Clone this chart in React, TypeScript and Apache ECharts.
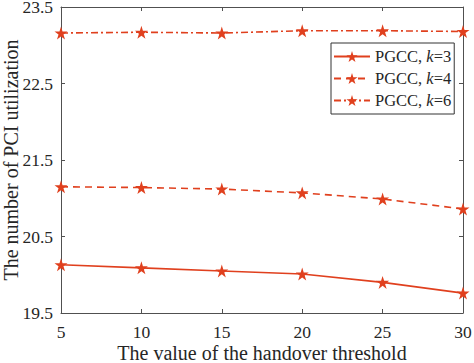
import React, { useEffect, useRef } from "react";
import * as echarts from "echarts";

const thresholds = [5, 10, 15, 20, 25, 30];
const k3Values = [20.13, 20.09, 20.05, 20.01, 19.9, 19.76];
const k4Values = [21.15, 21.14, 21.12, 21.07, 20.99, 20.86];
const k6Values = [23.16, 23.17, 23.16, 23.19, 23.19, 23.18];
const yTickValues = [19.5, 20.5, 21.5, 22.5, 23.5];
const seriesNames = ["PGCC, k=3", "PGCC, k=4", "PGCC, k=6"];

const STAR =
  "path://M50,0 L61.2,34.5 L97.6,34.5 L68.2,55.9 L79.4,90.5 L50,69.1 L20.6,90.5 L31.8,55.9 L2.4,34.5 L38.8,34.5 Z";
const RED = "#E0401E";
const FONT = "'Liberation Serif', 'Times New Roman', serif";
const AXIS = "#505050";
const TEXT = "#262626";

export default function App() {
  const ref = useRef<HTMLDivElement>(null);
  useEffect(() => {
    if (!ref.current) return;
    const chart = echarts.init(ref.current, undefined, { renderer: "svg" });
    const mk = (name: string, vals: number[], type: any) => ({
      name,
      type: "line",
      data: thresholds.map((x, i) => [x, vals[i]]),
      symbol: STAR,
      symbolSize: 13,
      itemStyle: { color: RED },
      lineStyle: { color: RED, width: 1.6, type },
      xAxisIndex: 0,
      yAxisIndex: 0,
    });
    const common = {
      type: "value",
      axisLine: { show: true, lineStyle: { color: AXIS, width: 1 } },
      splitLine: { show: false },
    };
    chart.setOption({
      animation: false,
      textStyle: { fontFamily: FONT },
      grid: {
        left: 61,
        right: 11,
        top: 7,
        bottom: 50,
        containLabel: false,
        outerBoundsMode: "none",
      },
      legend: {
        left: 331,
        top: 43,
        orient: "vertical",
        data: seriesNames,
        itemWidth: 36,
        itemHeight: 14,
        itemGap: 5,
        padding: [5, 3, 5, 2],
        borderColor: "#333",
        borderWidth: 1,
        backgroundColor: "#fff",
        formatter: (n: string) => n.replace("k=", "{i|k}="),
        textStyle: {
          fontFamily: FONT,
          fontSize: 16.5,
          color: TEXT,
          rich: { i: { fontFamily: FONT, fontSize: 16.5, fontStyle: "italic", color: TEXT } },
        },
      },
      xAxis: [
        {
          ...common,
          position: "bottom",
          min: 5,
          max: 30,
          interval: 5,
          axisTick: { show: true, inside: true, length: 4, lineStyle: { color: AXIS } },
          axisLabel: { color: TEXT, fontSize: 17.5, lineHeight: 16, fontFamily: FONT, margin: 11 },
          name: "The value of the handover threshold",
          nameLocation: "middle",
          nameGap: 30,
          nameMoveOverlap: false,
          nameTextStyle: { color: TEXT, fontSize: 20, lineHeight: 20, fontFamily: FONT },
        },
        {
          ...common,
          position: "top",
          min: 5,
          max: 30,
          interval: 5,
          axisTick: { show: true, inside: true, length: 4, lineStyle: { color: AXIS } },
          axisLabel: { show: false },
        },
      ],
      yAxis: [
        {
          ...common,
          position: "left",
          min: 19.5,
          max: 23.5,
          axisTick: {
            show: true,
            inside: true,
            length: 4,
            customValues: yTickValues,
            lineStyle: { color: AXIS },
          },
          axisLabel: {
            color: TEXT,
            fontSize: 17.5,
            lineHeight: 14,
            fontFamily: FONT,
            margin: 8,
            customValues: yTickValues,
            formatter: (v: number) => v.toFixed(1),
          },
          name: "The number of PCI utilization",
          nameLocation: "middle",
          nameGap: 40,
          nameMoveOverlap: false,
          nameTextStyle: { color: TEXT, fontSize: 20, lineHeight: 20, fontFamily: FONT },
        },
        {
          ...common,
          position: "right",
          min: 19.5,
          max: 23.5,
          axisTick: {
            show: true,
            inside: true,
            length: 4,
            customValues: yTickValues,
            lineStyle: { color: AXIS },
          },
          axisLabel: { show: false, customValues: yTickValues },
        },
      ],
      series: [
        mk(seriesNames[0], k3Values, "solid"),
        mk(seriesNames[1], k4Values, [7, 5]),
        mk(seriesNames[2], k6Values, [7, 3, 2, 3]),
      ],
    });
    return () => chart.dispose();
  }, []);
  return <div ref={ref} style={{ width: 474, height: 363, position: "absolute", left: 0, top: 0 }} />;
}
